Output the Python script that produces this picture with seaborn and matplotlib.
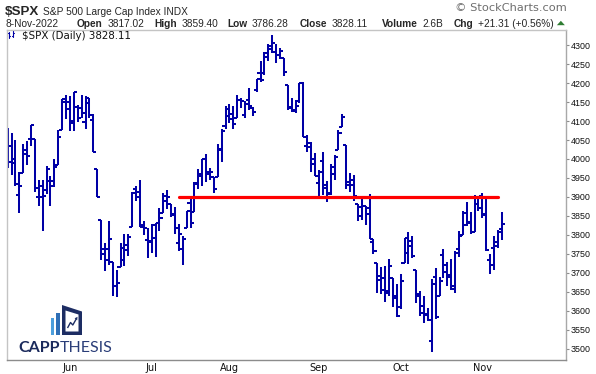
import matplotlib
matplotlib.use("Agg")
import matplotlib.pyplot as plt
from matplotlib.patches import Polygon, Rectangle
import seaborn as sns
import pandas as pd
import numpy as np

# ---------------- data ----------------
holidays = ["2022-05-30", "2022-06-20", "2022-07-04", "2022-09-05"]
dates = [d for d in pd.bdate_range("2022-05-09", "2022-11-08").strftime("%Y-%m-%d") if d not in holidays]

opens = [4081.27, 4035.18, 3990.08, 3903.95, 3963.90, 4013.02, 4052.00, 4051.98, 3899.00, 3927.76,
         3919.42, 3942.94, 3929.59, 3984.60, 4077.43, 4151.09,
         4149.78, 4095.41, 4137.57, 4134.72, 4096.47, 4147.12, 4101.65, 3974.39, 3838.15, 3763.52,
         3764.05, 3728.18, 3665.90, 3715.31, 3733.89, 3774.71, 3821.75, 3920.76, 3913.00, 3825.09, 3785.99,
         3781.00, 3792.61, 3831.98, 3858.85, 3888.26, 3880.94, 3851.95, 3779.67, 3763.99, 3818.00,
         3883.79, 3860.73, 3935.32, 3955.47, 4000.45, 3965.72, 3953.22, 3951.43, 4026.13, 4087.33,
         4112.38, 4104.21, 4107.96, 4154.85, 4115.87, 4155.93, 4133.11, 4181.02, 4227.40, 4225.02,
         4269.37, 4290.46, 4280.40, 4273.13, 4266.31, 4195.08, 4133.09, 4126.55, 4153.26, 4198.74,
         4034.58, 4041.25, 4000.67,
         3936.73, 3994.66, 3930.89, 3909.43, 3959.94, 4022.94, 4083.67, 4037.12, 3940.73, 3932.41,
         3880.95, 3849.91, 3875.23, 3871.40, 3782.36, 3727.14, 3682.72, 3686.44, 3651.94, 3687.01, 3633.48,
         3609.78, 3726.46, 3753.25, 3771.97, 3706.74, 3644.79, 3595.86, 3590.83, 3520.37, 3690.41,
         3638.65, 3746.26, 3703.11, 3689.05, 3657.10, 3762.01, 3799.44, 3825.97, 3834.69, 3808.26, 3881.85,
         3901.79, 3852.90, 3733.25, 3766.98, 3780.71, 3817.02]
highs = [4081.27, 4068.82, 4049.09, 3964.80, 4038.88, 4046.46, 4090.72, 4051.98, 3945.96, 3943.42,
         3981.88, 3955.68, 3999.33, 4075.14, 4158.49, 4168.34,
         4166.54, 4177.51, 4142.67, 4168.78, 4164.86, 4160.14, 4119.10, 3974.39, 3838.15, 3778.18,
         3837.48, 3728.18, 3707.71, 3779.65, 3801.79, 3802.58, 3913.65, 3927.72, 3945.86, 3836.50, 3818.99,
         3829.82, 3832.19, 3870.91, 3910.63, 3918.50, 3880.94, 3873.41, 3829.44, 3796.41, 3863.62,
         3902.44, 3939.81, 3974.13, 3999.29, 4012.44, 3975.30, 3953.22, 4039.56, 4078.95, 4140.15,
         4144.95, 4140.47, 4167.66, 4161.29, 4151.58, 4186.62, 4137.30, 4211.03, 4257.91, 4280.47,
         4301.79, 4325.28, 4302.18, 4292.53, 4266.31, 4195.08, 4159.77, 4156.56, 4200.54, 4203.04,
         4062.99, 4044.98, 4015.37,
         3970.23, 4018.43, 3942.55, 3987.89, 4010.50, 4076.81, 4119.28, 4037.12, 3961.94, 3959.14,
         3880.95, 3900.45, 3876.01, 3907.07, 3790.20, 3727.14, 3715.67, 3717.53, 3736.74, 3687.01, 3671.44,
         3698.35, 3791.92, 3806.91, 3797.93, 3706.74, 3652.17, 3640.66, 3608.34, 3685.41, 3712.00,
         3689.73, 3762.79, 3728.58, 3736.00, 3757.89, 3810.74, 3862.85, 3886.15, 3859.95, 3905.42, 3893.73,
         3911.79, 3894.44, 3750.59, 3796.34, 3813.95, 3859.40]
lows = [3975.48, 3958.17, 3928.82, 3858.87, 3963.90, 3983.99, 4033.93, 3911.91, 3876.58, 3810.32,
        3909.04, 3875.13, 3925.03, 3984.60, 4077.43, 4104.88,
        4073.85, 4074.37, 4098.67, 4109.18, 4080.19, 4107.20, 4017.17, 3900.16, 3734.30, 3705.68,
        3722.30, 3639.77, 3636.87, 3715.31, 3717.69, 3743.52, 3821.75, 3889.66, 3820.14, 3799.02, 3738.67,
        3752.10, 3742.06, 3809.37, 3858.85, 3869.34, 3847.22, 3802.36, 3759.07, 3721.56, 3817.18,
        3818.63, 3860.73, 3922.03, 3927.64, 3938.85, 3943.46, 3910.74, 3951.43, 3992.97, 4079.22,
        4096.02, 4079.81, 4107.96, 4135.42, 4107.31, 4128.97, 4112.09, 4177.26, 4201.41, 4219.78,
        4256.90, 4277.77, 4253.08, 4261.98, 4218.70, 4129.86, 4124.03, 4119.97, 4147.59, 4057.66,
        4017.42, 3965.21, 3954.53,
        3903.65, 3906.21, 3886.75, 3906.03, 3944.81, 4022.94, 4083.67, 3921.73, 3912.23, 3888.28,
        3837.08, 3838.50, 3827.54, 3789.49, 3749.45, 3647.47, 3644.76, 3623.29, 3640.61, 3610.40, 3584.13,
        3604.93, 3726.46, 3722.66, 3739.22, 3620.73, 3588.10, 3568.45, 3573.86, 3491.58, 3579.68,
        3638.65, 3686.53, 3666.51, 3656.44, 3647.42, 3741.65, 3799.44, 3824.07, 3803.79, 3808.26, 3863.18,
        3843.80, 3758.68, 3698.15, 3708.84, 3764.70, 3786.28]
closes = [3991.24, 4001.05, 3935.18, 3930.08, 4023.89, 4008.01, 4088.85, 3923.68, 3900.79, 3901.36,
          3973.75, 3941.48, 3978.73, 4057.84, 4158.24, 4132.15,
          4101.23, 4176.82, 4108.54, 4121.43, 4160.68, 4115.77, 4017.82, 3900.86, 3749.63, 3735.48,
          3789.99, 3666.77, 3674.84, 3764.79, 3759.89, 3795.73, 3911.74, 3900.11, 3821.55, 3818.83, 3785.38,
          3825.33, 3831.39, 3845.08, 3902.62, 3899.38, 3854.43, 3818.80, 3801.78, 3790.38, 3863.16,
          3830.85, 3936.69, 3959.90, 3998.95, 3961.63, 3966.84, 3921.05, 4023.61, 4072.43, 4130.29,
          4118.63, 4091.19, 4155.17, 4151.94, 4145.19, 4140.06, 4122.47, 4210.24, 4207.27, 4280.15,
          4297.14, 4305.20, 4274.04, 4283.74, 4228.48, 4137.99, 4128.73, 4140.77, 4199.12, 4057.66,
          4030.61, 3986.16, 3955.00,
          3966.85, 3924.26, 3908.19, 3979.87, 4006.18, 4067.36, 4110.41, 3932.69, 3946.01, 3901.35,
          3873.33, 3899.89, 3855.93, 3789.93, 3757.99, 3693.23, 3655.04, 3647.29, 3719.04, 3640.47, 3585.62,
          3678.43, 3790.93, 3783.28, 3744.52, 3639.66, 3612.39, 3588.84, 3577.03, 3669.91, 3583.07,
          3677.95, 3719.98, 3695.16, 3665.78, 3752.75, 3797.34, 3859.11, 3830.60, 3807.30, 3901.06, 3871.98,
          3856.10, 3759.69, 3719.89, 3770.55, 3806.80, 3828.11]

month_labels = ["Jun", "Jul", "Aug", "Sep", "Oct", "Nov"]
y_ticks = list(range(3500, 4301, 50))
resistance_level = 3900
resistance_dates = ["2022-07-13", "2022-11-07"]

header_title = "$SPX"
header_name = "S&P 500 Large Cap Index INDX"
header_date = "8-Nov-2022"
header_fields = [("Open", "3817.02"), ("High", "3859.40"), ("Low", "3786.28"),
                 ("Close", "3828.11"), ("Volume", "2.6B"), ("Chg", "+21.31 (+0.56%)")]
legend_text = "$SPX (Daily) 3828.11"

# ---------------- style ----------------
sns.set_theme(style="white")
plt.rcParams["font.family"] = ["Liberation Sans", "DejaVu Sans"]

W, H = 596, 374
fig = plt.figure(figsize=(W / 100, H / 100), dpi=100)
fig.patch.set_facecolor("white")

# plot area: x 7..566, y 30..360 (pixels, top-down)
ax = fig.add_axes([7 / W, (H - 360) / H, 559 / W, 330 / H])
ax.set_facecolor("white")

df = pd.DataFrame({"date": pd.to_datetime(dates), "open": opens, "high": highs,
                   "low": lows, "close": closes})
df["i"] = np.arange(len(df))

bar_color = "#0000A6"
lw = 1.45
tick = 0.8
ax.vlines(df["i"], df["low"], df["high"], color=bar_color, lw=lw)
ax.hlines(df["open"], df["i"] - tick, df["i"], color=bar_color, lw=lw)
ax.hlines(df["close"], df["i"], df["i"] + tick, color=bar_color, lw=lw)

# resistance line
d2i = dict(zip(dates, df["i"]))
res = pd.DataFrame({"x": [d2i[d] for d in resistance_dates],
                    "y": [resistance_level] * len(resistance_dates)})
sns.lineplot(data=res, x="x", y="y", color="#FF0000", lw=2.3, ax=ax, legend=False)

ax.set_xlim(-0.18, 143.5)
ax.set_ylim(3471, 4339.5)

# y axis on the right
ax.yaxis.tick_right()
ax.set_yticks(y_ticks)
ax.set_yticklabels([str(v) for v in y_ticks])
ax.tick_params(axis="y", direction="out", length=2.5, width=0.8, color="#8c8c8c",
               pad=0.6, labelsize=6.4, labelcolor="#111111", right=True, left=False)

# month labels at first trading day of each month
first_idx = df.groupby(df["date"].dt.to_period("M"))["i"].min()
month_pos = [int(first_idx[p]) for p in first_idx.index if p.strftime("%b") in month_labels]
ax.set_xticks(month_pos)
ax.set_xticklabels(month_labels, fontfamily="DejaVu Sans", fontsize=7, color="#111111")
ax.tick_params(axis="x", length=0, pad=2.5)

ax.set_xlabel("")
ax.set_ylabel("")
for s in ["left", "top"]:
    ax.spines[s].set_color("#c4c4c4")
    ax.spines[s].set_linewidth(1.0)
ax.spines["right"].set_color("#a8a8a8")
ax.spines["right"].set_linewidth(1.0)
ax.spines["bottom"].set_color("#8c8c8c")
ax.spines["bottom"].set_linewidth(1.0)
ax.spines["bottom"].set_linestyle((0, (1, 1)))
ax.grid(False)

# ---------------- overlay in pixel coordinates ----------------
ov = fig.add_axes([0, 0, 1, 1], zorder=5)
ov.set_xlim(0, W)
ov.set_ylim(H, 0)
ov.axis("off")
fig.canvas.draw()
renderer = fig.canvas.get_renderer()
inv = ov.transData.inverted()


def right_edge(t):
    bb = t.get_window_extent(renderer=renderer)
    return inv.transform((bb.x1, bb.y0))[0]


ov.text(5, 15, header_title, fontsize=9.6, fontweight="bold", va="baseline", parse_math=False)
ov.text(43, 14.5, header_name, fontsize=7.3, va="baseline")
ov.text(5, 27, header_date, fontsize=7.3, va="baseline")
label_x = [77, 154, 227, 300, 382, 454]
xe = 0
for (lab, val), lx in zip(header_fields, label_x):
    tl = ov.text(lx, 27, lab, fontsize=7.3, fontweight="bold", va="baseline")
    tv = ov.text(right_edge(tl) + 4.5, 27, val, fontsize=7.3, va="baseline")
    xe = right_edge(tv)
ov.add_patch(Polygon([(xe + 3, 25.2), (xe + 11, 25.2), (xe + 7, 20.8)], closed=True,
                     color="#2f7d32", lw=0))
ov.text(567, 10.5, "\u00a9 StockCharts.com", fontsize=8.2, color="#6e6e6e",
        ha="right", va="baseline", family="DejaVu Sans")

# legend inside plot
for bx, (lo, hi, op, cl) in zip([9, 13], [(31.5, 37.5, 33, 36), (31, 36.5, 35.5, 33)]):
    ov.plot([bx, bx], [lo, hi], color=bar_color, lw=0.8)
    ov.plot([bx - 1.3, bx], [op, op], color=bar_color, lw=0.8)
    ov.plot([bx, bx + 1.3], [cl, cl], color=bar_color, lw=0.8)
ov.text(22, 38.5, legend_text, fontsize=7.4, family="DejaVu Sans", va="baseline",
        color="#111111", parse_math=False)

# CAPPTHESIS logo
ov.add_patch(Rectangle((50.7, 318), 3.6, 17, color="#4d9fdc", lw=0))
ov.add_patch(Rectangle((56, 313), 4, 22, color="#2f6fb6", lw=0))
ov.add_patch(Polygon([(62, 305), (82, 311.5), (82, 335), (62, 335)], closed=True,
                     color="#1d2d63", lw=0))
ov.add_patch(Polygon([(65.5, 310.5), (78.5, 314.5), (78.5, 331.5), (65.5, 331.5)], closed=True,
                     color="white", lw=0))
ov.plot([67.5, 70.5, 72.8, 76.5], [328, 322.5, 325, 318.5], color="#1d2d63", lw=1.0,
        solid_capstyle="butt")
ov.add_patch(Polygon([(77.5, 316.8), (77.2, 320.3), (74.6, 318.3)], closed=True,
                     color="#1d2d63", lw=0))
t1 = ov.text(18, 352.5, "CAPP", fontsize=11.5, fontweight="bold", family="Lato",
             color="#1b2a5c", va="baseline")
ov.text(right_edge(t1) + 0.5, 352.5, "THESIS", fontsize=11.5, family="Lato", color="#2a3d78",
        va="baseline")

fig.savefig("out.png", dpi=100)
